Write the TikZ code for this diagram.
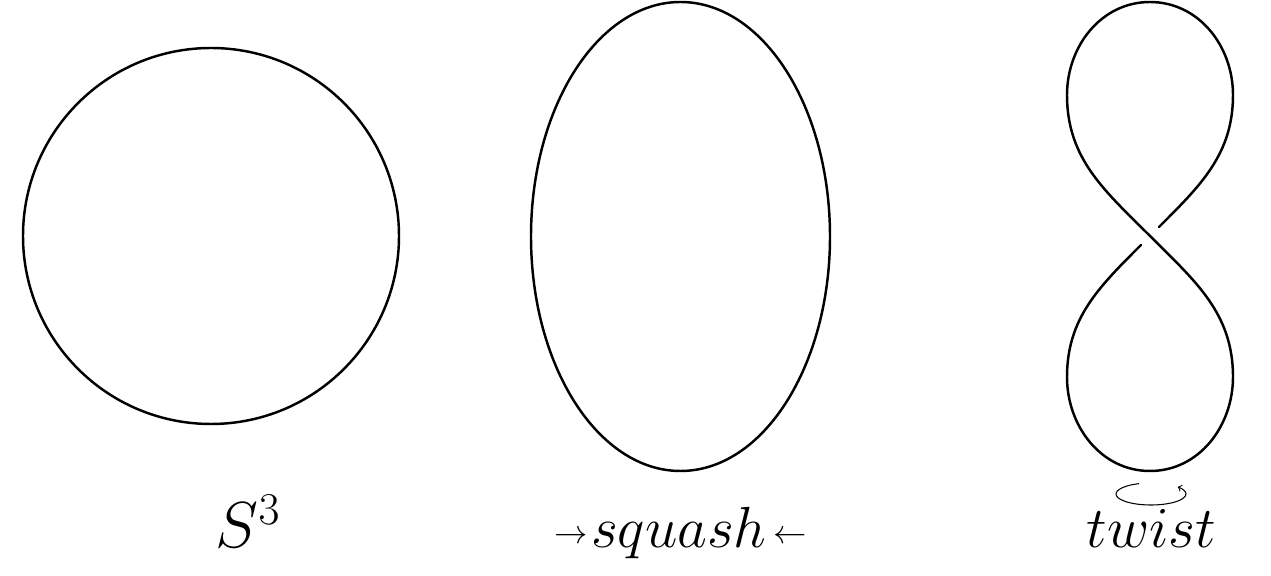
\RequirePackage{fix-cm}
\documentclass[tikz,border=0pt]{standalone}
\usepackage{amsmath, amssymb}
\usepackage{tikz}

\tikzset{
	knot/.style={line width=1.4pt, line cap=round},
	lbl/.style={anchor=base, inner sep=0pt, font=\fontsize{33}{40}\selectfont}
}
\newcommand{\squasharrow}[1]{\raisebox{2.7pt}{\fontsize{19}{22}\selectfont$#1$}}

\begin{document}
\begin{tikzpicture}
\useasboundingbox (0,0) rectangle (25.42,11.52);

\draw[knot] (4.22,6.80) circle (3.76);
\draw[knot] (13.61,6.79) ellipse (2.99 and 4.69);

% the figure eight, one strand broken at the crossing
\coordinate (c) at (23.0,6.80);
\draw[knot] (23.18,6.98) to[out=45,in=-90] (24.66,9.62) to[out=90,in=0] (23.0,11.48)
	to[out=180,in=90] (21.34,9.62) to[out=-90,in=135] (c) to[out=-45,in=90] (24.66,3.98)
	to[out=-90,in=0] (23.0,2.10) to[out=180,in=-90] (21.34,3.98) to[out=90,in=-135] (22.82,6.62);

\node[lbl, font=\fontsize{37}{44}\selectfont] (sphere) at (4.96,0.56) {$S^3$};
\node[lbl] (squash) at (13.61,0.56) {$\squasharrow{\rightarrow}\mkern1mu squash\mkern2mu\squasharrow{\leftarrow}$};
\node[lbl] (twist) at (23.03,0.56) {$twist$};

\draw[line width=0.6pt, ->] (23.02,1.64) ++(110:0.70 and 0.22) arc[start angle=110, end angle=400, x radius=0.70, y radius=0.22];

\end{tikzpicture}
\end{document}
